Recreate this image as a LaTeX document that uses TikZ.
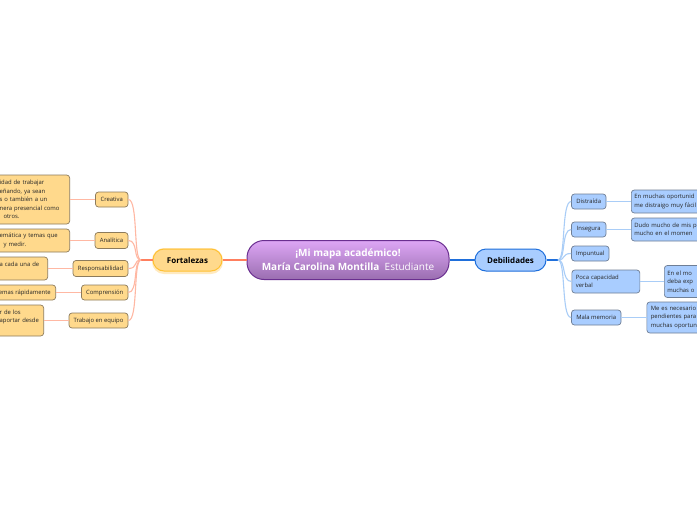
\documentclass[tikz,border=0pt]{standalone}
\usepackage{fontspec}
\setmainfont{Open Sans}
\definecolor{orfill}{HTML}{FFD98C}
\definecolor{orline}{HTML}{8C7B5C}
\definecolor{blfill}{HTML}{A9CDFF}
\definecolor{blline}{HTML}{6F7F96}
\definecolor{orlink}{HTML}{FFB8A3}
\definecolor{orhub}{HTML}{FF7F5E}
\definecolor{bllink}{HTML}{A9CDF7}
\definecolor{blhub}{HTML}{1F6FDB}
\definecolor{rootline}{HTML}{6A2F90}
\definecolor{roottop}{HTML}{DDA6F5}
\definecolor{rootbot}{HTML}{9A6EB0}
\definecolor{fortline}{HTML}{FFC133}
\hyphenpenalty=10000
\tikzset{
  small/.style={font=\fontsize{5.9}{8.5}\selectfont,text=black!85,inner ysep=0pt,rounded corners=3pt,line width=.7pt,align=left},
  ora/.style={small,draw=orline,fill=orfill},
  blu/.style={small,draw=blline,fill=blfill},
  orl/.style={draw=orlink,line width=1.1pt},
  bll/.style={draw=bllink,line width=1.1pt},
  hubtext/.style={font=\fontsize{8}{10}\selectfont\bfseries,text=black,rounded corners=11pt,line width=1pt,minimum height=22pt,inner sep=0pt},
}
\begin{document}
\begin{tikzpicture}[x=1pt,y=-1pt]
\useasboundingbox (0,0) rectangle (697,520);
\clip (0,0) rectangle (697,520);
\fill[white] (0,0) rectangle (697,520);

% glow of the main branches
\fill[orfill!55,rounded corners=12pt] (152,248) rectangle (223,274);

% centre
\node[minimum width=202pt,minimum height=39pt,inner sep=0pt,rounded corners=17pt,
  draw=rootline,line width=1pt,top color=roottop,bottom color=rootbot,
  text=white,align=center,font=\fontsize{10}{14}\selectfont] (root) at (348,260)
  {\textbf{¡Mi mapa académico!}\\\textbf{María Carolina Montilla}\ \ Estudiante};

% main branches
\node[hubtext,draw=fortline,fill=orfill,minimum width=69pt] (fort) at (187.5,260) {Fortalezas};
\node[hubtext,draw=blhub,fill=blfill,minimum width=71pt] (deb) at (510.5,260) {Debilidades};

% left children
\node[ora,minimum width=32.5pt,minimum height=15pt,inner xsep=0pt] (crea) at (111.75,199.5) {Creativa};
\node[ora,minimum width=33pt,minimum height=16pt,inner xsep=0pt] (anal) at (111.5,240.5) {Analítica};
\node[ora,minimum width=55pt,minimum height=16pt,inner xsep=0pt] (resp) at (100.5,268.5) {Responsabilidad};
\node[ora,minimum width=46.5pt,minimum height=15pt,inner xsep=0pt] (comp) at (104.75,292.5) {Comprensión};
\node[ora,minimum width=59pt,minimum height=15pt,inner xsep=0pt] (trab) at (98.5,320.5) {Trabajo en equipo};

% left details
\node[ora,anchor=east,text width=62pt,inner xsep=8pt,minimum height=49pt] (d1) at (70,199.5)
  {idad de trabajar\\eñando, ya sean\\s o también a un\\nera presencial como\\\ \ otros.};
\node[ora,anchor=east,text width=62pt,inner xsep=8pt,minimum height=23pt] (d2) at (70,240.5)
  {emática y temas que\\\ \ y medir.};
\node[ora,anchor=east,text width=40pt,inner xsep=8pt,minimum height=23pt] (d3) at (48,268.5)
  {a cada una de\\\mbox{}};
\node[ora,anchor=east,inner xsep=5pt,minimum height=15pt] (d4) at (56,292.5)
  {\hspace*{8pt}emas rápidamente};
\node[ora,anchor=east,text width=40pt,inner xsep=4pt,minimum height=31pt] (d5) at (44,320.5)
  {r de los\\aportar desde\\\mbox{}};

% right children
\node[blu,minimum width=34.5pt,minimum height=15pt,inner xsep=0pt] (dis) at (588.75,201.5) {Distraída};
\node[blu,minimum width=34.5pt,minimum height=15pt,inner xsep=0pt] (ins) at (588.75,229.5) {Insegura};
\node[blu,minimum width=37.5pt,minimum height=15pt,inner xsep=0pt] (imp) at (590.25,253.5) {Impuntual};
\node[blu,anchor=west,text width=60pt,inner xsep=4pt,minimum height=23pt] (poc) at (571.5,281.5) {Poca capacidad\\verbal};
\node[blu,minimum width=49.5pt,minimum height=15pt,inner xsep=0pt] (mal) at (596.25,317.5) {Mala memoria};

% right details
\node[blu,anchor=west,text width=80pt,inner xsep=3pt,minimum height=23pt] (e1) at (631,201.5)
  {En muchas oportunid\\me distraigo muy fácil};
\node[blu,anchor=west,text width=80pt,inner xsep=3pt,minimum height=23pt] (e2) at (631,229.5)
  {Dudo mucho de mis p\\mucho en el momen};
\node[blu,anchor=west,text width=40pt,inner xsep=3pt,minimum height=32pt] (e3) at (664,281.5)
  {En el mo\\deba exp\\muchas o};
\node[blu,anchor=west,text width=54pt,inner xsep=4pt,minimum height=31pt] (e4) at (646.5,317.5)
  {Me es necesario\\pendientes para\\muchas oportun};

% junctions
\coordinate (jl) at (141,260);
\coordinate (jr) at (558,260);

% connectors
\draw[orhub,line width=1.4pt] (root.west |- fort.east) -- (fort.east);
\draw[blhub,line width=1.4pt] (root.east |- deb.west) -- (deb.west);
\draw[orhub,line width=1.4pt] (fort.west) -- (jl);
\draw[blhub,line width=1.4pt] (deb.east) -- (jr);
\foreach \c in {crea,anal,resp,comp,trab}
  \draw[orl] (\c.east) .. controls +(10,0) and +(-8,0) .. (jl);
\foreach \c in {dis,ins,imp,poc,mal}
  \draw[bll] (\c.west) .. controls +(-10,0) and +(8,0) .. (jr);
\draw[orl] (crea.west) -- (d1.east);
\draw[orl] (anal.west) -- (d2.east);
\draw[orl] (resp.west) -- (d3.east);
\draw[orl] (comp.west) -- (d4.east);
\draw[orl] (trab.west) -- (d5.east);
\draw[bll] (dis.east) -- (e1.west);
\draw[bll] (ins.east) -- (e2.west);
\draw[bll] (poc.east) -- (e3.west);
\draw[bll] (mal.east) -- (e4.west);
\end{tikzpicture}
\end{document}
